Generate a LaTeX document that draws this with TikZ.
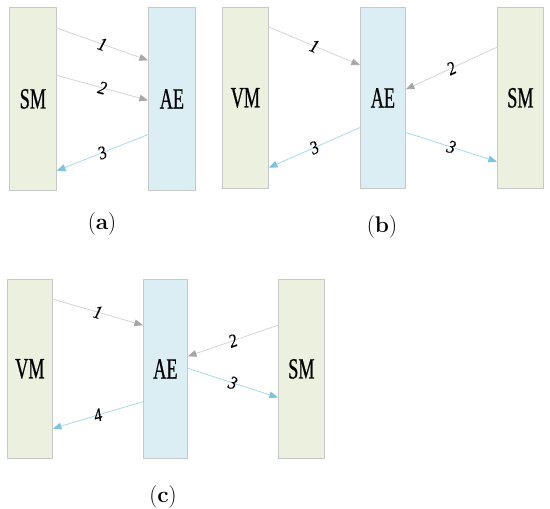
\documentclass[tikz,border=0pt]{standalone}
\usepackage{fontspec}
\usetikzlibrary{arrows.meta,calc}
\newfontfamily\boxfont[FakeStretch=0.62,FakeBold=0.6]{Liberation Serif}
\newfontfamily\numfont[FakeStretch=0.85,FakeBold=0.5]{Liberation Serif}
\definecolor{gfill}{HTML}{EBF1DE}
\definecolor{bfill}{HTML}{DAEEF3}
\definecolor{bordc}{HTML}{C8C8C8}
\definecolor{gline}{HTML}{D4D4D4}
\definecolor{gtip}{HTML}{A6A6A6}
\definecolor{bline}{HTML}{A8D8E8}
\definecolor{btip}{HTML}{7CC6DC}
\tikzset{
  gbox/.style={draw=bordc, fill=gfill, line width=0.6pt, inner sep=0pt, anchor=north west, font=\boxfont\fontsize{22}{23}\selectfont},
  bbox/.style={draw=bordc, fill=bfill, line width=0.6pt, inner sep=0pt, anchor=north west, font=\boxfont\fontsize{22}{23}\selectfont},
  garrow/.style={draw=gline, line width=0.6pt, -{Triangle[length=6.5pt,width=5pt,color=gtip]}},
  barrow/.style={draw=bline, line width=0.6pt, -{Triangle[length=6.5pt,width=5pt,color=btip]}},
  lab/.style={midway, sloped, inner sep=0pt, font=\numfont\itshape\fontsize{14}{14}\selectfont},
  captext/.style={font=\fontsize{17}{19}\selectfont}
}
\begin{document}
\begin{tikzpicture}[x=0.75pt,y=-0.75pt]
\useasboundingbox (0,0) rectangle (550,509);
% ---------- (a)
\node[gbox, minimum width=35.25pt, minimum height=137.25pt] (smA) at (9,7) {SM};
\node[bbox, minimum width=35.25pt, minimum height=137.25pt] (aeA) at (148,7) {AE};
\draw[garrow] ($(smA.north east)!0.115!(smA.south east)$) -- ($(aeA.north west)!0.29!(aeA.south west)$) node[lab]{1};
\draw[garrow] ($(smA.north east)!0.372!(smA.south east)$) -- ($(aeA.north west)!0.508!(aeA.south west)$) node[lab]{2};
\draw[barrow] ($(aeA.north west)!0.694!(aeA.south west)$) -- ($(smA.north east)!0.891!(smA.south east)$) node[lab]{3};
\node[captext] (capA) at (102,224) {(\textbf{a})};
% ---------- (b)
\node[gbox, minimum width=34.5pt, minimum height=135.75pt] (vmB) at (222,7) {VM};
\node[bbox, minimum width=33.75pt, minimum height=135.75pt] (aeB) at (360,7) {AE};
\node[gbox, minimum width=34.5pt, minimum height=135.75pt] (smB) at (497,7) {SM};
\draw[garrow] ($(vmB.north east)!0.11!(vmB.south east)$) -- ($(aeB.north west)!0.32!(aeB.south west)$) node[lab]{1};
\draw[garrow] ($(smB.north west)!0.221!(smB.south west)$) -- ($(aeB.north east)!0.453!(aeB.south east)$) node[lab]{2};
\draw[barrow] ($(aeB.north west)!0.663!(aeB.south west)$) -- ($(vmB.north east)!0.884!(vmB.south east)$) node[lab]{3};
\draw[barrow] ($(aeB.north east)!0.69!(aeB.south east)$) -- ($(smB.north west)!0.851!(smB.south west)$) node[lab]{3};
\node[captext] (capB) at (382,227) {(\textbf{b})};
% ---------- (c)
\node[gbox, minimum width=33.75pt, minimum height=134.25pt] (vmC) at (7,279) {VM};
\node[bbox, minimum width=33pt, minimum height=134.25pt] (aeC) at (143,279) {AE};
\node[gbox, minimum width=34.5pt, minimum height=134.25pt] (smC) at (278,279) {SM};
\draw[garrow] ($(vmC.north east)!0.112!(vmC.south east)$) -- ($(aeC.north west)!0.257!(aeC.south west)$) node[lab]{1};
\draw[garrow] ($(smC.north west)!0.257!(smC.south west)$) -- ($(aeC.north east)!0.43!(aeC.south east)$) node[lab]{2};
\draw[barrow] ($(aeC.north east)!0.497!(aeC.south east)$) -- ($(smC.north west)!0.659!(smC.south west)$) node[lab]{3};
\draw[barrow] ($(aeC.north west)!0.682!(aeC.south west)$) -- ($(vmC.north east)!0.832!(vmC.south east)$) node[lab]{4};
\node[captext] (capC) at (163,497) {(\textbf{c})};
\end{tikzpicture}
\end{document}
